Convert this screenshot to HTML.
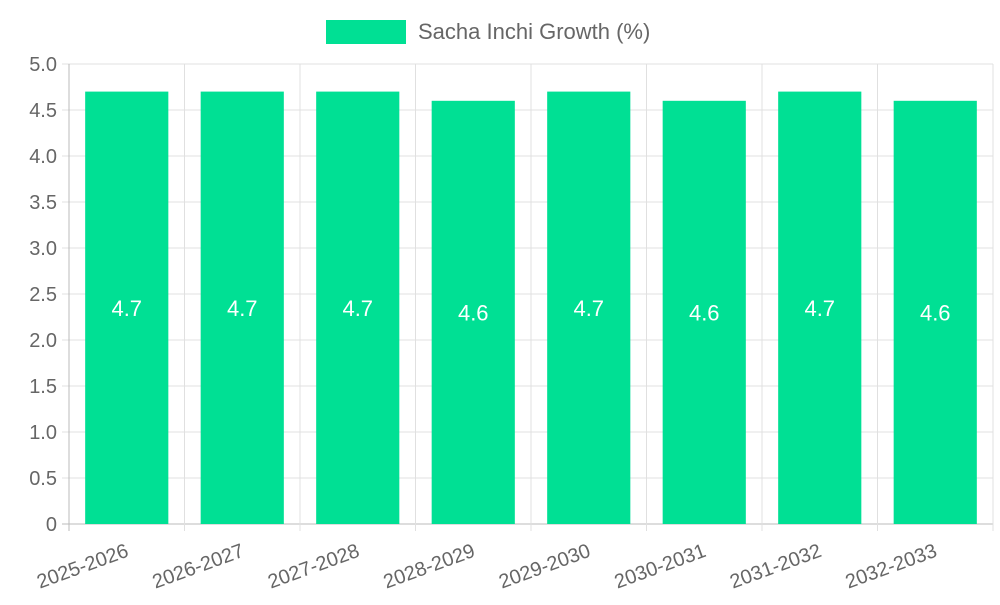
<!DOCTYPE html>
<html><head><meta charset="utf-8"><style>
body{margin:0;background:#fff;font-family:"Liberation Sans",sans-serif}
</style></head><body>
<svg width="1000" height="600" id="c" font-family="Liberation Sans, sans-serif"></svg>
<script>
const categories=["2025-2026","2026-2027","2027-2028","2028-2029","2029-2030","2030-2031","2031-2032","2032-2033"];
const values=[4.7,4.7,4.7,4.6,4.7,4.6,4.7,4.6];
const yTicks=[0,0.5,1.0,1.5,2.0,2.5,3.0,3.5,4.0,4.5,5.0];
const yTickLabels=["0","0.5","1.0","1.5","2.0","2.5","3.0","3.5","4.0","4.5","5.0"];
const svg=document.getElementById('c');
const NS="http://www.w3.org/2000/svg";
const L=69,R=993,T=64,B=524,yMax=5;
const bw=(R-L)/categories.length;
const y=v=>B-(v/yMax)*(B-T);
const x=i=>L+i*bw;
function mk(t,a,p){const e=document.createElementNS(NS,t);for(const k in a)e.setAttribute(k,a[k]);(p||svg).appendChild(e);return e;}
const grid=mk('g',{});


yTicks.forEach((v,i)=>{
  mk('line',{x1:L-7,x2:R,y1:y(v),y2:y(v),stroke:i===0?'#bbb':'#e0e0e0','stroke-width':1},grid);
  const t=mk('text',{x:L-12,y:y(v)+7,'text-anchor':'end','font-size':20,fill:'#666'});
  t.textContent=yTickLabels[i];
  
  
});
for(let i=0;i<=categories.length;i++){
  mk('line',{x1:x(i),x2:x(i),y1:T,y2:B+7,stroke:i===0?'#bbb':'#e0e0e0','stroke-width':1},grid);
}
categories.forEach((c,i)=>{
  const cx=x(i)+bw/2,w=bw*0.72;
  const r=mk('rect',{x:cx-w/2,y:y(values[i]),width:w,height:B-y(values[i]),fill:'#00e094'});
  
  
  const vl=mk('text',{x:cx,y:(y(values[i])+B)/2+8,'text-anchor':'middle','font-size':22,fill:'#fff'});
  vl.textContent=values[i].toFixed(1);
  
  
  const xl=mk('text',{x:0,y:0,'text-anchor':'end','font-size':20,fill:'#666',transform:`translate(${cx+3},${B+32}) rotate(-20)`});
  xl.textContent=c;
  
  
});
const lg=mk('g',{});


mk('rect',{x:326,y:20,width:80,height:24,fill:'#00e094'},lg);
const lt=mk('text',{x:418,y:39,'font-size':22,fill:'#666'},lg);
lt.textContent="Sacha Inchi Growth (%)";
</script>
</body></html>
